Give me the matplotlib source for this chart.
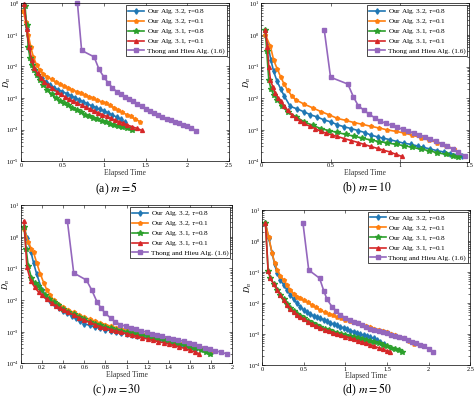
"""Convergence of D_n versus elapsed time for four values of m (2x2 panels)."""

import matplotlib
matplotlib.use("Agg")
import matplotlib.pyplot as plt
from matplotlib.ticker import LogLocator, NullFormatter, FormatStrFormatter

plt.rcParams['font.family'] = ['Liberation Serif', 'DejaVu Serif']
plt.rcParams['mathtext.fontset'] = 'stix'

LABELS = ['Our Alg. 3.2, $\\tau$=0.8', 'Our Alg. 3.2, $\\tau$=0.1',
          'Our Alg. 3.1, $\\tau$=0.8', 'Our Alg. 3.1, $\\tau$=0.1',
          'Thong and Hieu Alg. (1.6)']
COLORS = ['#1f77b4', '#ff7f0e', '#2ca02c', '#d62728', '#9467bd']
MARKERS = ['d', 'p', '*', '^', 's']

# ---- panel (a), m = 5
a_x_blue = [0.04, 0.07, 0.10, 0.13, 0.17, 0.21, 0.25, 0.30, 0.35, 0.40, 0.45, 0.50, 0.55, 0.60,
            0.65, 0.70, 0.75, 0.80, 0.85, 0.90, 0.95, 1.00, 1.05, 1.10, 1.15, 1.20, 1.25]
a_y_blue = [0.9, 0.15, 0.035, 0.012, 0.0075, 0.0055, 0.0042, 0.0032, 0.0026, 0.0021, 0.0018, 0.0016,
            0.00138, 0.00118, 0.00102, 0.00088, 0.00076, 0.00066, 0.00057, 0.0005, 0.00044, 0.00039,
            0.00034, 0.00029, 0.00025, 0.00021, 0.00017]
a_x_orange = [0.03, 0.06, 0.09, 0.12, 0.15, 0.19, 0.23, 0.27, 0.32, 0.37, 0.42, 0.47, 0.52, 0.57, 0.62,
              0.67, 0.72, 0.77, 0.82, 0.87, 0.92, 0.97, 1.02, 1.07, 1.12, 1.17, 1.22, 1.27, 1.32, 1.37, 1.43]
a_y_orange = [0.55, 0.25, 0.1, 0.04, 0.02, 0.011, 0.0075, 0.0058, 0.0047, 0.0039, 0.0032, 0.0028, 0.0024,
              0.0021, 0.0018, 0.0016, 0.0014, 0.00125, 0.0011, 0.00097, 0.00086, 0.00076, 0.00068,
              0.00058, 0.0005, 0.00042, 0.00035, 0.0003, 0.00026, 0.00022, 0.00018]
a_x_green = [0.05, 0.07, 0.09, 0.11, 0.13, 0.16, 0.19, 0.23, 0.27, 0.32, 0.37, 0.42, 0.47, 0.52, 0.57,
             0.62, 0.67, 0.72, 0.77, 0.82, 0.87, 0.92, 0.97, 1.02, 1.07, 1.12, 1.17, 1.22, 1.27, 1.33]
a_y_green = [0.8, 0.2, 0.04, 0.018, 0.011, 0.0075, 0.0055, 0.0038, 0.0026, 0.0018, 0.0013, 0.001,
             0.00082, 0.00068, 0.00058, 0.0005, 0.00043, 0.00035, 0.0003, 0.00027, 0.00024, 0.00021,
             0.00019, 0.00017, 0.000155, 0.00014, 0.00013, 0.00012, 0.00011, 0.0001]
a_x_red = [0.04, 0.07, 0.10, 0.13, 0.16, 0.20, 0.24, 0.28, 0.33, 0.38, 0.43, 0.48, 0.53, 0.58, 0.63,
           0.68, 0.73, 0.78, 0.83, 0.88, 0.93, 0.98, 1.03, 1.08, 1.13, 1.18, 1.23, 1.28, 1.33, 1.39, 1.45]
a_y_red = [0.95, 0.15, 0.04, 0.016, 0.009, 0.006, 0.0043, 0.0033, 0.0025, 0.002, 0.0016, 0.0013, 0.0011,
           0.00092, 0.00079, 0.00068, 0.00059, 0.00051, 0.00045, 0.00039, 0.00034, 0.0003, 0.00026,
           0.00023, 0.0002, 0.00018, 0.00016, 0.00014, 0.000125, 0.00011, 0.000095]
a_x_purple = [0.68, 0.73, 0.88, 0.94, 1.00, 1.05, 1.10, 1.15, 1.20, 1.25, 1.30, 1.35, 1.40, 1.45,
              1.50, 1.55, 1.60, 1.65, 1.70, 1.75, 1.80, 1.85, 1.90, 1.95, 2.00, 2.05, 2.11]
a_y_purple = [1.0, 0.032, 0.02, 0.008, 0.0045, 0.003, 0.0021, 0.0016, 0.0013, 0.0011, 0.00092, 0.00078,
              0.00065, 0.00054, 0.00045, 0.00039, 0.00034, 0.00029, 0.00025, 0.00022, 0.0002, 0.00018,
              0.00016, 0.00014, 0.000126, 0.00011, 0.000093]

# ---- panel (b), m = 10
b_x_blue = [0.03, 0.05, 0.07, 0.09, 0.115, 0.14, 0.165, 0.21, 0.26, 0.31, 0.355, 0.40, 0.45, 0.50,
            0.55, 0.60, 0.65, 0.70, 0.75, 0.79, 0.84, 0.88, 0.93, 0.98, 1.03, 1.08, 1.13, 1.17, 1.22,
            1.27, 1.32, 1.36, 1.41, 1.45]
b_y_blue = [1.0, 0.45, 0.16, 0.07, 0.034, 0.02, 0.012, 0.0055, 0.0046, 0.0037, 0.003, 0.0026, 0.0021,
            0.0018, 0.00145, 0.00125, 0.0011, 0.00095, 0.00082, 0.00069, 0.0006, 0.00055, 0.00049,
            0.00043, 0.00038, 0.00035, 0.00031, 0.00028, 0.00025, 0.00022, 0.0002, 0.00018, 0.000165,
            0.000155]
b_x_orange = [0.03, 0.067, 0.09, 0.115, 0.14, 0.165, 0.19, 0.22, 0.25, 0.31, 0.37, 0.43, 0.49, 0.55,
              0.61, 0.67, 0.73, 0.79, 0.85, 0.91, 0.97, 1.03, 1.09, 1.15, 1.21, 1.27, 1.33, 1.39]
b_y_orange = [1.0, 0.43, 0.16, 0.085, 0.048, 0.028, 0.018, 0.012, 0.0089, 0.0065, 0.005, 0.0038, 0.003,
              0.0023, 0.002, 0.0017, 0.0015, 0.0013, 0.00115, 0.001, 0.0009, 0.0008, 0.00068, 0.00057,
              0.00048, 0.0004, 0.00032, 0.00025]
b_x_green = [0.03, 0.04, 0.055, 0.07, 0.09, 0.115, 0.15, 0.19, 0.25, 0.31, 0.37, 0.43, 0.49, 0.55,
             0.61, 0.67, 0.73, 0.79, 0.85, 0.91, 0.97, 1.03, 1.09, 1.15, 1.21, 1.27, 1.33, 1.38, 1.42]
b_y_green = [1.4, 0.3, 0.038, 0.02, 0.013, 0.0089, 0.0055, 0.0038, 0.0026, 0.0018, 0.0014, 0.0011,
             0.00095, 0.00083, 0.00072, 0.00063, 0.00055, 0.00048, 0.00043, 0.00039, 0.00035, 0.00032,
             0.00028, 0.00025, 0.00022, 0.00019, 0.00017, 0.00015, 0.000135]
b_x_red = [0.03, 0.045, 0.055, 0.067, 0.085, 0.103, 0.12, 0.14, 0.165, 0.19, 0.22, 0.25, 0.28, 0.31,
           0.35, 0.39, 0.43, 0.47, 0.51, 0.55, 0.60, 0.65, 0.70, 0.74, 0.79, 0.84, 0.88, 0.93, 0.97, 1.015]
b_y_red = [1.44, 0.4, 0.1, 0.038, 0.022, 0.0145, 0.0105, 0.0079, 0.0056, 0.0042, 0.003, 0.0023, 0.0019,
           0.0016, 0.0013, 0.0011, 0.0009, 0.00078, 0.00069, 0.00062, 0.00053, 0.00046, 0.0004, 0.00035,
           0.0003, 0.00026, 0.00023, 0.0002, 0.00017, 0.000145]
b_x_purple = [0.455, 0.50, 0.625, 0.665, 0.70, 0.74, 0.78, 0.82, 0.86, 0.90, 0.94, 0.98, 1.02, 1.06,
              1.10, 1.14, 1.18, 1.22, 1.26, 1.30, 1.34, 1.38, 1.42, 1.47]
b_y_purple = [1.4, 0.046, 0.028, 0.011, 0.0058, 0.0042, 0.0031, 0.0024, 0.0019, 0.0016, 0.0014, 0.0012,
              0.00105, 0.00092, 0.0008, 0.0007, 0.00061, 0.00052, 0.00044, 0.00037, 0.00031, 0.00025,
              0.0002, 0.000145]

# ---- panel (c), m = 30
c_x_blue = [0.03, 0.06, 0.095, 0.12, 0.15, 0.2, 0.24, 0.28, 0.32, 0.36, 0.4, 0.44, 0.48, 0.52, 0.56,
            0.6, 0.65, 0.7, 0.75, 0.8, 0.85, 0.9, 0.95, 1.0, 1.05, 1.1, 1.15, 1.2, 1.25, 1.3, 1.35, 1.4,
            1.45, 1.5, 1.55, 1.6, 1.65]
c_y_blue = [2.0, 0.9, 0.34, 0.15, 0.066, 0.021, 0.013, 0.0095, 0.0072, 0.0058, 0.0047, 0.0039, 0.0032,
            0.0027, 0.0022, 0.0018, 0.0016, 0.0014, 0.0013, 0.00118, 0.00108, 0.001, 0.00093, 0.00086,
            0.0008, 0.00075, 0.0007, 0.00064, 0.00059, 0.00055, 0.0005, 0.00046, 0.00042, 0.00038,
            0.00034, 0.0003, 0.00027]
c_x_orange = [0.03, 0.07, 0.1, 0.12, 0.15, 0.183, 0.215, 0.246, 0.28, 0.31, 0.35, 0.4, 0.45, 0.5, 0.55,
              0.6, 0.65, 0.7, 0.75, 0.8, 0.85, 0.9, 0.95, 1.0, 1.05, 1.1, 1.15, 1.2, 1.25, 1.3, 1.35,
              1.4, 1.45, 1.5, 1.55, 1.6, 1.65, 1.7, 1.75, 1.8]
c_y_orange = [1.8, 0.7, 0.4, 0.32, 0.15, 0.069, 0.036, 0.021, 0.014, 0.01, 0.0078, 0.006, 0.0049,
              0.0041, 0.0034, 0.0029, 0.0025, 0.0022, 0.0019, 0.0017, 0.0015, 0.00135, 0.00122, 0.0011,
              0.001, 0.00092, 0.00084, 0.00077, 0.0007, 0.00064, 0.00058, 0.00053, 0.00048, 0.00044,
              0.0004, 0.00036, 0.00033, 0.0003, 0.00027, 0.00024]
c_x_green = [0.03, 0.05, 0.07, 0.1, 0.13, 0.16, 0.19, 0.23, 0.27, 0.31, 0.35, 0.4, 0.45, 0.5, 0.55, 0.6,
             0.65, 0.7, 0.75, 0.8, 0.85, 0.9, 0.95, 1.0, 1.05, 1.1, 1.15, 1.2, 1.25, 1.3, 1.35, 1.4,
             1.45, 1.5, 1.55, 1.6, 1.65, 1.7, 1.75, 1.79]
c_y_green = [2.0, 0.4, 0.12, 0.05, 0.035, 0.027, 0.021, 0.015, 0.011, 0.0085, 0.0068, 0.0053, 0.0043,
             0.0036, 0.003, 0.0025, 0.0021, 0.0018, 0.0016, 0.0014, 0.0013, 0.00118, 0.00108, 0.001,
             0.00092, 0.00085, 0.00078, 0.00072, 0.00066, 0.0006, 0.00055, 0.0005, 0.00045, 0.00041,
             0.00037, 0.00033, 0.0003, 0.00026, 0.00023, 0.0002]
c_x_red = [0.03, 0.057, 0.094, 0.13, 0.167, 0.2, 0.246, 0.29, 0.33, 0.37, 0.41, 0.45, 0.5, 0.55, 0.6,
           0.65, 0.7, 0.75, 0.8, 0.85, 0.9, 0.95, 1.0, 1.05, 1.1, 1.15, 1.2, 1.25, 1.3, 1.35, 1.4, 1.45,
           1.5, 1.55, 1.6, 1.65, 1.69]
c_y_red = [3.2, 0.11, 0.04, 0.026, 0.018, 0.014, 0.0105, 0.0082, 0.0067, 0.0056, 0.0048, 0.0041, 0.0034,
           0.0028, 0.0023, 0.002, 0.0017, 0.00145, 0.0013, 0.00118, 0.00107, 0.00097, 0.00088, 0.0008,
           0.00072, 0.00065, 0.00059, 0.00054, 0.00049, 0.00045, 0.00041, 0.00037, 0.00033, 0.0003,
           0.00026, 0.00023, 0.0002]
c_x_purple = [0.44, 0.5, 0.62, 0.67, 0.72, 0.76, 0.8, 0.85, 0.89, 0.94, 0.99, 1.04, 1.09, 1.14, 1.19,
              1.24, 1.29, 1.34, 1.39, 1.44, 1.49, 1.54, 1.59, 1.64, 1.69, 1.74, 1.79, 1.84, 1.89, 1.95]
c_y_purple = [3.2, 0.072, 0.043, 0.021, 0.0089, 0.0055, 0.0038, 0.0027, 0.0021, 0.0017, 0.0015, 0.00135,
              0.0012, 0.00108, 0.00097, 0.00088, 0.0008, 0.00073, 0.00066, 0.0006, 0.00055, 0.0005,
              0.00045, 0.0004, 0.00035, 0.00031, 0.00028, 0.00025, 0.00023, 0.0002]

# ---- panel (d), m = 50
d_x_blue = [0.04, 0.08, 0.12, 0.15, 0.18, 0.22, 0.26, 0.3, 0.34, 0.38, 0.42, 0.46, 0.5, 0.54, 0.58,
            0.62, 0.66, 0.7, 0.74, 0.78, 0.82, 0.86, 0.9, 0.94, 0.98, 1.02, 1.06, 1.1, 1.14, 1.18, 1.22,
            1.26, 1.3, 1.34, 1.38, 1.42, 1.46]
d_y_blue = [3.7, 1.2, 0.4, 0.18, 0.09, 0.055, 0.038, 0.026, 0.018, 0.013, 0.0098, 0.0075, 0.0059, 0.005,
            0.0043, 0.0038, 0.0035, 0.0032, 0.0029, 0.0026, 0.0023, 0.0021, 0.0019, 0.0017, 0.0016,
            0.0015, 0.0013, 0.0012, 0.0011, 0.001, 0.00093, 0.00087, 0.00081, 0.00072, 0.00064,
            0.00056, 0.00048]
d_x_orange = [0.04, 0.08, 0.12, 0.15, 0.18, 0.22, 0.26, 0.3, 0.34, 0.38, 0.42, 0.46, 0.5, 0.55, 0.6,
              0.65, 0.7, 0.75, 0.8, 0.85, 0.9, 0.95, 1.0, 1.05, 1.1, 1.15, 1.2, 1.25, 1.3, 1.35, 1.4,
              1.45, 1.5, 1.55, 1.6, 1.65, 1.7, 1.76, 1.82]
d_y_orange = [3.7, 1.3, 0.4, 0.2, 0.115, 0.075, 0.055, 0.037, 0.026, 0.02, 0.016, 0.014, 0.0125, 0.0104,
              0.0087, 0.0072, 0.0059, 0.0051, 0.0045, 0.004, 0.0036, 0.0032, 0.0029, 0.0026, 0.0024,
              0.0022, 0.002, 0.0018, 0.0017, 0.0015, 0.0014, 0.0013, 0.0012, 0.001, 0.0009, 0.0008,
              0.00073, 0.0006, 0.00048]
d_x_green = [0.04, 0.072, 0.1, 0.14, 0.18, 0.22, 0.26, 0.3, 0.34, 0.38, 0.42, 0.46, 0.5, 0.55, 0.6,
             0.65, 0.7, 0.75, 0.8, 0.85, 0.9, 0.95, 1.0, 1.05, 1.1, 1.15, 1.2, 1.25, 1.3, 1.35, 1.4,
             1.45, 1.5, 1.55, 1.6, 1.64, 1.68]
d_y_green = [3.8, 0.11, 0.063, 0.04, 0.027, 0.018, 0.013, 0.0093, 0.0068, 0.0055, 0.0045, 0.0038,
             0.0032, 0.0027, 0.0023, 0.002, 0.0017, 0.0015, 0.00135, 0.0012, 0.0011, 0.001, 0.00092,
             0.00084, 0.00078, 0.00072, 0.00067, 0.00063, 0.0006, 0.00055, 0.0005, 0.00045, 0.00041,
             0.00036, 0.00032, 0.0003, 0.00027]
d_x_red = [0.04, 0.072, 0.1, 0.14, 0.18, 0.22, 0.26, 0.3, 0.34, 0.38, 0.42, 0.46, 0.5, 0.55, 0.6,
           0.65, 0.7, 0.75, 0.8, 0.85, 0.9, 0.95, 1.0, 1.05, 1.1, 1.15, 1.2, 1.25, 1.3, 1.35, 1.4, 1.45,
           1.5, 1.54]
d_y_red = [3.8, 0.11, 0.063, 0.04, 0.026, 0.018, 0.0125, 0.0088, 0.0063, 0.005, 0.0041, 0.0035, 0.003,
           0.0025, 0.0021, 0.0018, 0.0016, 0.0014, 0.00125, 0.00112, 0.001, 0.0009, 0.00083, 0.00076,
           0.00067, 0.0006, 0.00055, 0.0005, 0.00045, 0.0004, 0.00036, 0.00032, 0.00029, 0.00027]
d_x_purple = [0.49, 0.56, 0.69, 0.74, 0.78, 0.84, 0.89, 0.94, 1.0, 1.05, 1.1, 1.15, 1.2, 1.25, 1.3,
              1.35, 1.4, 1.45, 1.5, 1.55, 1.6, 1.65, 1.7, 1.75, 1.8, 1.85, 1.9, 1.95, 2.0, 2.05]
d_y_purple = [3.9, 0.115, 0.063, 0.025, 0.013, 0.0076, 0.0055, 0.0041, 0.0034, 0.0029, 0.0025, 0.0022,
              0.0019, 0.0017, 0.0015, 0.0014, 0.0013, 0.00115, 0.00105, 0.00096, 0.00088, 0.0008,
              0.00072, 0.00064, 0.00057, 0.0005, 0.00045, 0.0004, 0.00033, 0.00027]


def draw_panel(fig, rect, series, xlim, xticks, ylim, caption, cap_x, cap_y):
    ax = fig.add_axes(rect)
    for (xs, ys), lab, col, mk in zip(series, LABELS, COLORS, MARKERS):
        ms = 4 if mk == '*' else 2.8
        ax.plot(xs, ys, color=col, marker=mk, markersize=ms, linewidth=1.2,
                label=lab, clip_on=False)
    ax.set_yscale('log')
    ax.set_xlim(*xlim)
    ax.set_ylim(*ylim)
    ax.set_xticks(xticks)
    ax.xaxis.set_major_formatter(FormatStrFormatter('%g'))
    ax.yaxis.set_major_locator(LogLocator(base=10, numticks=10))
    ax.yaxis.set_minor_locator(LogLocator(base=10, subs=range(2, 10), numticks=10))
    ax.yaxis.set_minor_formatter(NullFormatter())
    ax.tick_params(which='both', direction='in', top=True, right=True, labelsize=4.5,
                   width=0.4, pad=1.2)
    ax.tick_params(which='major', length=2.5)
    ax.tick_params(which='minor', length=1.3)
    for sp in ax.spines.values():
        sp.set_linewidth(0.5)
    ax.set_xlabel('Elapsed Time', fontsize=5.5, labelpad=0.5, color='#333333')
    ax.set_ylabel('$D_n$', fontsize=6)
    ax.yaxis.set_label_coords(-0.04, 0.5)
    leg = ax.legend(loc='upper right', fontsize=5.2, borderaxespad=0.25, handlelength=2.2,
                    labelspacing=0.15, borderpad=0.3, handletextpad=0.4, fancybox=False,
                    framealpha=1)
    leg.get_frame().set_edgecolor('black')
    leg.get_frame().set_linewidth(0.5)
    fig.text(cap_x, cap_y, caption, ha='center', va='center', fontsize=8.5)
    return ax


def main():
    fig = plt.figure(figsize=(4.74, 3.99), dpi=100)

    draw_panel(fig, [0.044, 0.596, 0.439, 0.396],
               [(a_x_blue, a_y_blue), (a_x_orange, a_y_orange), (a_x_green, a_y_green),
                (a_x_red, a_y_red), (a_x_purple, a_y_purple)],
               (0, 2.5), [0, 0.5, 1, 1.5, 2, 2.5], (1e-5, 1e0),
               '(a) $m = 5$', 0.245, 0.527)
    draw_panel(fig, [0.551, 0.595, 0.439, 0.397],
               [(b_x_blue, b_y_blue), (b_x_orange, b_y_orange), (b_x_green, b_y_green),
                (b_x_red, b_y_red), (b_x_purple, b_y_purple)],
               (0, 1.5), [0, 0.5, 1, 1.5], (1e-4, 1e1),
               '(b) $m = 10$', 0.774, 0.527)
    draw_panel(fig, [0.044, 0.089, 0.446, 0.397],
               [(c_x_blue, c_y_blue), (c_x_orange, c_y_orange), (c_x_green, c_y_green),
                (c_x_red, c_y_red), (c_x_purple, c_y_purple)],
               (0, 2), [0, 0.2, 0.4, 0.6, 0.8, 1, 1.2, 1.4, 1.6, 1.8, 2], (1e-4, 1e1),
               '(c) $m = 30$', 0.246, 0.022)
    draw_panel(fig, [0.553, 0.085, 0.439, 0.389],
               [(d_x_blue, d_y_blue), (d_x_orange, d_y_orange), (d_x_green, d_y_green),
                (d_x_red, d_y_red), (d_x_purple, d_y_purple)],
               (0, 2.5), [0, 0.5, 1, 1.5, 2, 2.5], (1e-4, 1e1),
               '(d) $m = 50$', 0.774, 0.022)

    fig.savefig('out.png', dpi=100)


if __name__ == "__main__":
    main()
